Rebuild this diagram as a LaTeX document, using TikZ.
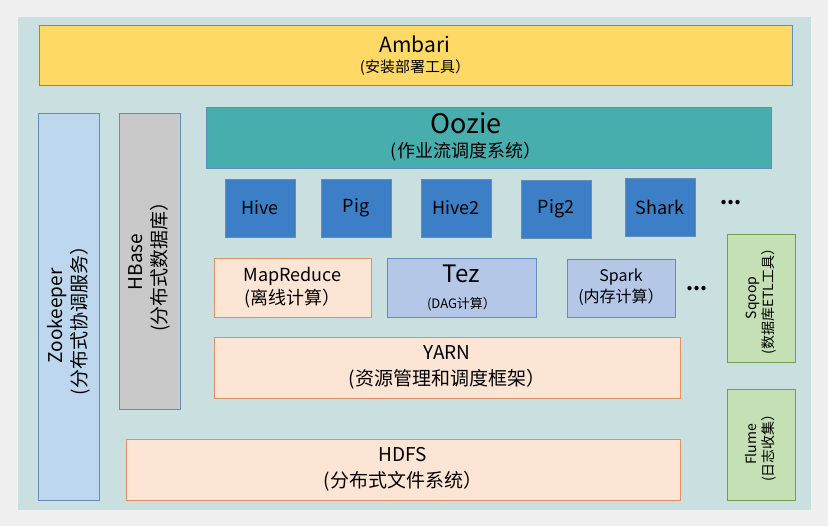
\documentclass[tikz,border=0pt]{standalone}
\usepackage{fontspec}
\setmainfont{Noto Sans CJK SC}
\newcommand{\fs}[2]{\fontsize{#1}{#2}\selectfont}
\begin{document}
\begin{tikzpicture}[x=1pt,y=-1pt,
 ld/.style={align=center,inner sep=0pt},
 dots/.style={font=\bfseries\fs{20}{20}}]
\useasboundingbox (0,0) rectangle (828,526);
\fill[fill={rgb,255:red,240;green,240;blue,240}] (0,0) rectangle (828,526);
\fill[fill={rgb,255:red,202;green,223;blue,224}] (18,17) rectangle (811,510);
\definecolor{bd}{RGB}{100,140,185}
\definecolor{ob}{RGB}{225,145,95}
\definecolor{gb}{RGB}{110,160,80}
% Ambari
\draw[bd,fill={rgb,255:red,254;green,217;blue,102},line width=0.9pt] (39,25) rectangle (792,85);
\node[ld,font=\fs{15}{20}] (amb) at (415,56) {{\fs{21}{22}Ambari}\\(安装部署工具）};
% Zookeeper
\draw[bd,fill={rgb,255:red,189;green,215;blue,238},line width=0.9pt] (38,113) rectangle (99,500);
\node[ld,rotate=90,font=\fs{19}{24}] (zk) at (68.5,316) {Zookeeper\\(分布式协调服务）};
% HBase
\draw[bd,fill={rgb,255:red,201;green,201;blue,201},line width=0.9pt] (119,113) rectangle (180,409);
\node[ld,rotate=90,font=\fs{19}{24}] (hb) at (149.5,262) {HBase\\(分布式数据库）};
% Oozie
\draw[bd,fill={rgb,255:red,71;green,173;blue,173},line width=0.9pt] (206,107) rectangle (771,168);
\node[ld,font=\fs{18}{24}] (oz) at (466,137) {{\fs{27}{28}Oozie}\\(作业流调度系统）};
% blue row
\foreach \n/\xa/\ya/\t in {hive/225/179/Hive,pig/321/179/Pig,hive2/421/179/Hive2,pig2/521/180/Pig2,shark/625/178/Shark}{
 \draw[bd,fill={rgb,255:red,60;green,127;blue,198},line width=0.9pt] (\xa,\ya) rectangle ++(70,58);
 \node[ld,font=\fs{18}{20}] (\n) at (\xa+35,\ya+29) {\t};
}
\node[dots] (d1) at (731,203) {...};
% middle row
\draw[ob,fill={rgb,255:red,253;green,229;blue,214},line width=0.9pt] (214,258) rectangle (371,317);
\node[ld,font=\fs{18}{23}] (mr) at (292.5,287.5) {MapReduce\\(离线计算）};
\draw[bd,fill={rgb,255:red,180;green,199;blue,231},line width=0.9pt] (387,258) rectangle (536,317);
\node[ld,font=\fs{13}{26}] (tez) at (461.5,287.5) {{\fs{24}{26}Tez}\\(DAG计算）};
\draw[bd,fill={rgb,255:red,180;green,199;blue,231},line width=0.9pt] (567,259) rectangle (675,317);
\node[ld,font=\fs{16}{21}] (sp) at (621,287) {Spark\\(内存计算）};
\node[dots] (d2) at (697,289) {...};
% YARN / HDFS
\draw[ob,fill={rgb,255:red,253;green,229;blue,214},line width=0.9pt] (214,337) rectangle (680,398);
\node[ld,font=\fs{19}{26}] (yarn) at (447,367.5) {YARN\\(资源管理和调度框架）};
\draw[ob,fill={rgb,255:red,253;green,229;blue,214},line width=0.9pt] (126,439) rectangle (680,500);
\node[ld,font=\fs{19}{26}] (hdfs) at (403,469.5) {HDFS\\(分布式文件系统）};
% green
\draw[gb,fill={rgb,255:red,197;green,224;blue,180},line width=0.9pt] (727,234) rectangle (795,362);
\node[ld,rotate=90,font=\fs{14}{17}] (sq) at (761,298) {Sqoop\\(数据库ETL工具）};
\draw[gb,fill={rgb,255:red,197;green,224;blue,180},line width=0.9pt] (727,389) rectangle (795,500);
\node[ld,rotate=90,font=\fs{14}{17}] (fl) at (761,444.5) {Flume\\(日志收集）};
\end{tikzpicture}
\end{document}
